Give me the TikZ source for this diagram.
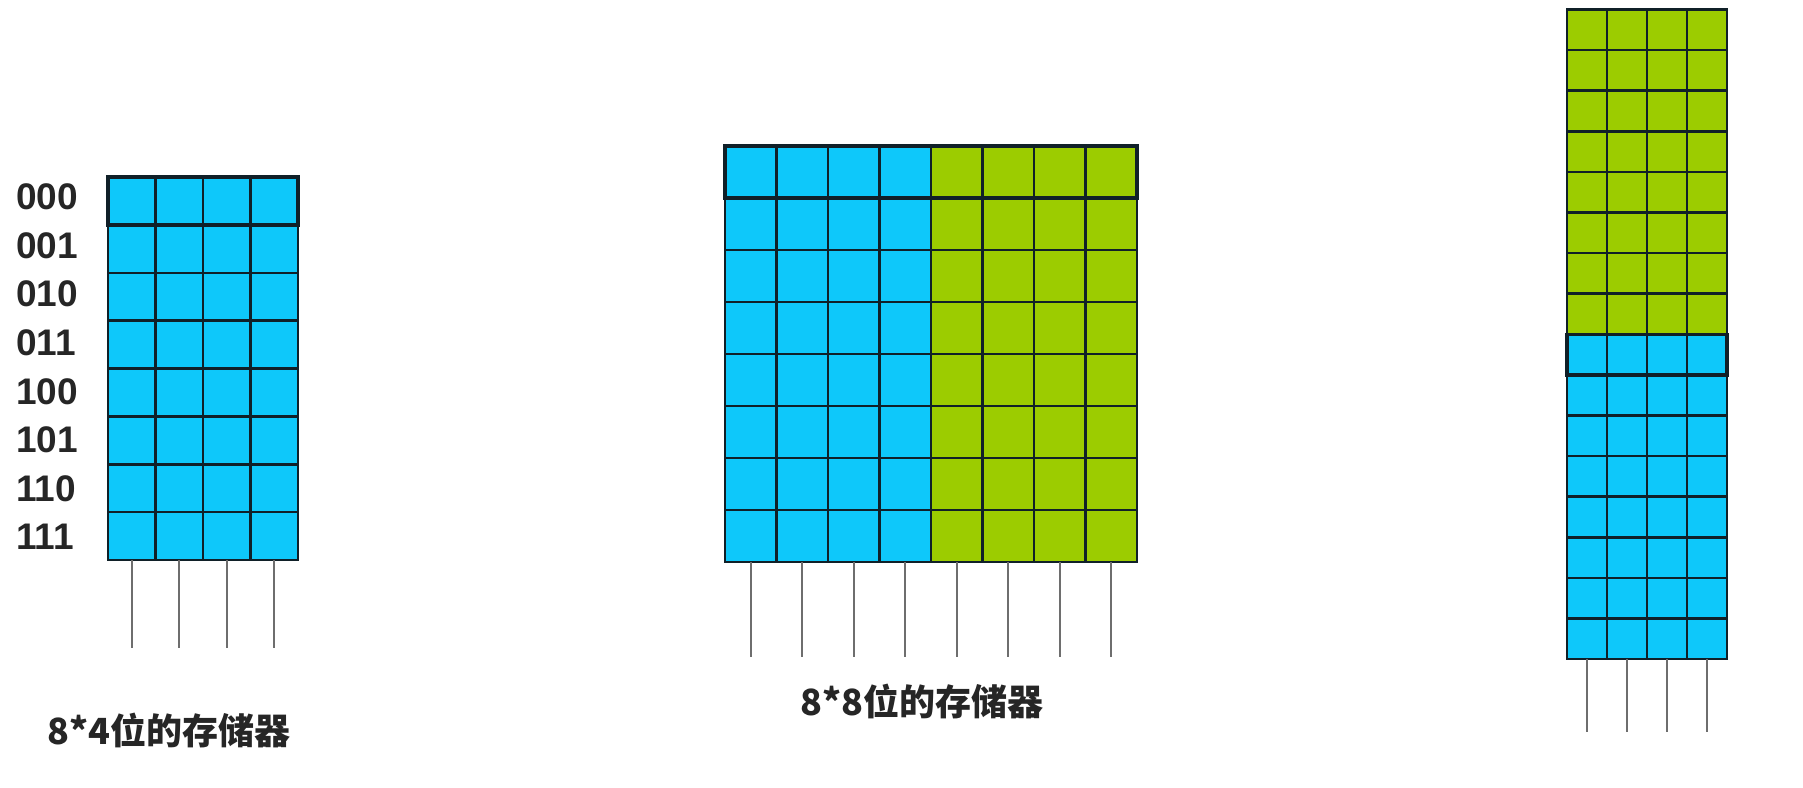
\documentclass[tikz,border=0pt]{standalone}
\usepackage{fontspec}
\setmainfont{Liberation Sans}
\newfontfamily\cjk{Noto Sans CJK SC}
\definecolor{cellblue}{RGB}{14,200,250}
\definecolor{cellgreen}{RGB}{156,204,0}
\definecolor{gridline}{RGB}{16,32,40}
\definecolor{pincol}{RGB}{110,110,110}
\begin{document}
\begin{tikzpicture}[x=1pt,y=-1pt,
  gridl/.style={draw=gridline,line width=2.5pt},
  pinline/.style={draw=pincol,line width=2.4pt},
  selrow/.style={draw=gridline,line width=3.6pt},
  lbl/.style={font=\fontsize{37}{37}\selectfont\bfseries,text=black!85,anchor=west,inner sep=0pt},
  captext/.style={font=\cjk\bfseries\fontsize{36}{36}\selectfont,text=black!85,inner sep=0pt}]
\useasboundingbox[fill=white] (0,0) rectangle (1803,787);

% ---------- left grid 8x4 ----------
\fill[cellblue] (108,177) rectangle (298,560);
\foreach \i in {1,2,3} \draw[gridl] ({108+47.5*\i},177) -- ({108+47.5*\i},560);
\foreach \j in {1,...,7} \draw[gridl] (108,{177+47.875*\j}) -- (298,{177+47.875*\j});
\draw[gridl] (108,177) rectangle (298,560);
\draw[selrow] (108,177) rectangle (298,{177+47.875});
\foreach \k [count=\n from 0] in {000,001,010,011,100,101,110,111}
  \node[lbl] (addr\n) at (16,{197+48.6*\n}) {\k};
\foreach \i in {0,1,2,3} {
  \coordinate (la\i) at ({131.75+47.5*\i},560);
  \coordinate (lb\i) at ({131.75+47.5*\i},648);
  \draw[pinline] (la\i) -- (lb\i);
}
\node[captext] (cap1) at (169,731) {8*4位的存储器};

% ---------- middle grid 8x8 ----------
\fill[cellblue] (725,146) rectangle (931,562);
\fill[cellgreen] (931,146) rectangle (1137,562);
\foreach \i in {1,...,7} \draw[gridl] ({725+51.5*\i},146) -- ({725+51.5*\i},562);
\foreach \j in {1,...,7} \draw[gridl] (725,{146+52*\j}) -- (1137,{146+52*\j});
\draw[gridl] (725,146) rectangle (1137,562);
\draw[selrow] (725,146) rectangle (1137,198);
\foreach \i in {0,...,7} {
  \coordinate (ma\i) at ({750.75+51.5*\i},562);
  \coordinate (mb\i) at ({750.75+51.5*\i},657);
  \draw[pinline] (ma\i) -- (mb\i);
}
\node[captext] (cap2) at (922,702) {8*8位的存储器};

% ---------- right grid 16x4 ----------
\fill[cellgreen] (1567,9.5) rectangle (1727,334.3);
\fill[cellblue] (1567,334.3) rectangle (1727,659.1);
\foreach \i in {1,2,3} \draw[gridl] ({1567+40*\i},9.5) -- ({1567+40*\i},659.1);
\foreach \j in {1,...,15} \draw[gridl] (1567,{9.5+40.6*\j}) -- (1727,{9.5+40.6*\j});
\draw[gridl] (1567,9.5) rectangle (1727,659.1);
\draw[selrow] (1567,334.3) rectangle (1727,374.9);
\foreach \i in {0,1,2,3} {
  \coordinate (ra\i) at ({1587+40*\i},659.1);
  \coordinate (rb\i) at ({1587+40*\i},732);
  \draw[pinline] (ra\i) -- (rb\i);
}
\end{tikzpicture}
\end{document}
